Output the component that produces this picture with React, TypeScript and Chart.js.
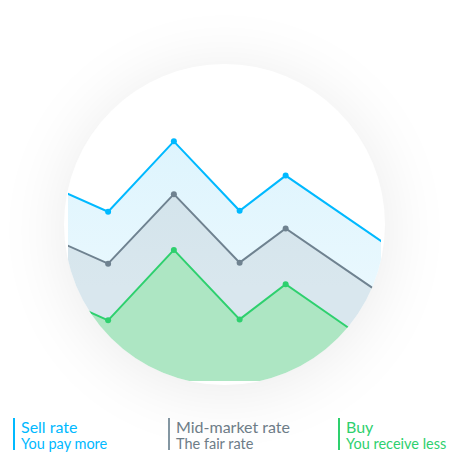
import React, { useEffect, useRef } from "react";
import { Chart, registerables, ScriptableContext } from "chart.js";

Chart.register(...registerables);

// x positions (time steps) and the three rate series
const STEPS = [0.2, 1, 2, 3, 3.7, 5.5];
const SELL = [1.077, 1.053, 1.125, 1.054, 1.09, 1.007];
const MID = [1.024, 1.0, 1.071, 1.001, 1.036, 0.953];
const BUY = [0.966, 0.942, 1.014, 0.943, 0.979, 0.895];

const X_RANGE = [0.39, 5.15];
const Y_RANGE = [0.88, 1.2];

const LEGEND = [
  { title: "Sell rate", sub: "You pay more", color: "#00b9ff", bar: "#00b9ff", left: 13 },
  { title: "Mid-market rate", sub: "The fair rate", color: "#6d7c87", bar: "#8396a2", left: 168 },
  { title: "Buy", sub: "You receive less", color: "#2ed06e", bar: "#2ed06e", left: 338 },
];

const gradient = (top: string, bottom: string) => (ctx: ScriptableContext<"line">) => {
  const { chart } = ctx;
  const area = chart.chartArea;
  if (!area) return top;
  const g = chart.ctx.createLinearGradient(0, area.top, 0, area.bottom);
  g.addColorStop(0.2, top);
  g.addColorStop(0.7, bottom);
  return g;
};

const series = (data: number[], line: string, fill: any) => ({
  data: STEPS.map((x, i) => ({ x, y: data[i] })),
  borderColor: line,
  borderWidth: 2,
  backgroundColor: fill,
  fill: "start" as const,
  tension: 0,
  pointRadius: 3,
  pointBorderWidth: 0,
  pointBackgroundColor: line,
});

const RateChart: React.FC = () => {
  const canvasRef = useRef<HTMLCanvasElement>(null);

  useEffect(() => {
    if (!canvasRef.current) return;
    const chart = new Chart(canvasRef.current, {
      type: "line",
      data: {
        datasets: [
          series(BUY, "#2ed06e", "#ade6c3"),
          series(MID, "#6f8290", gradient("#d0e2ea", "#d9e7ee")),
          series(SELL, "#00b9ff", gradient("#ddf4fd", "#e9f8fe")),
        ],
      },
      options: {
        responsive: true,
        maintainAspectRatio: false,
        animation: false,
        layout: { padding: 0 },
        plugins: { legend: { display: false }, tooltip: { enabled: false } },
        scales: {
          x: { type: "linear", display: false, min: X_RANGE[0], max: X_RANGE[1] },
          y: { display: false, min: Y_RANGE[0], max: Y_RANGE[1] },
        },
      },
    });
    return () => chart.destroy();
  }, []);

  return (
    <div
      style={{
        position: "absolute",
        left: 64,
        top: 64,
        width: 321,
        height: 321,
        borderRadius: "50%",
        overflow: "hidden",
        background: "#fff",
        boxShadow: "0 6px 70px rgba(0,0,0,0.085)",
      }}
    >
      <canvas ref={canvasRef} />
    </div>
  );
};

export default function App() {
  return (
    <div
      style={{
        position: "absolute",
        left: 0,
        top: 0,
        width: 449,
        height: 452,
        background: "#fff",
        overflow: "hidden",
        fontFamily: "Lato, 'Open Sans', sans-serif",
      }}
    >
      <RateChart />
      {LEGEND.map((l) => (
        <div
          key={l.title}
          style={{
            position: "absolute",
            left: l.left,
            top: 418,
            height: 32,
            borderLeft: `2px solid ${l.bar}`,
            paddingLeft: 6,
          }}
        >
          <div style={{ fontSize: 16, lineHeight: "17px", color: l.color }}>{l.title}</div>
          <div style={{ fontSize: 14.5, lineHeight: "17px", color: l.color }}>{l.sub}</div>
        </div>
      ))}
    </div>
  );
}
